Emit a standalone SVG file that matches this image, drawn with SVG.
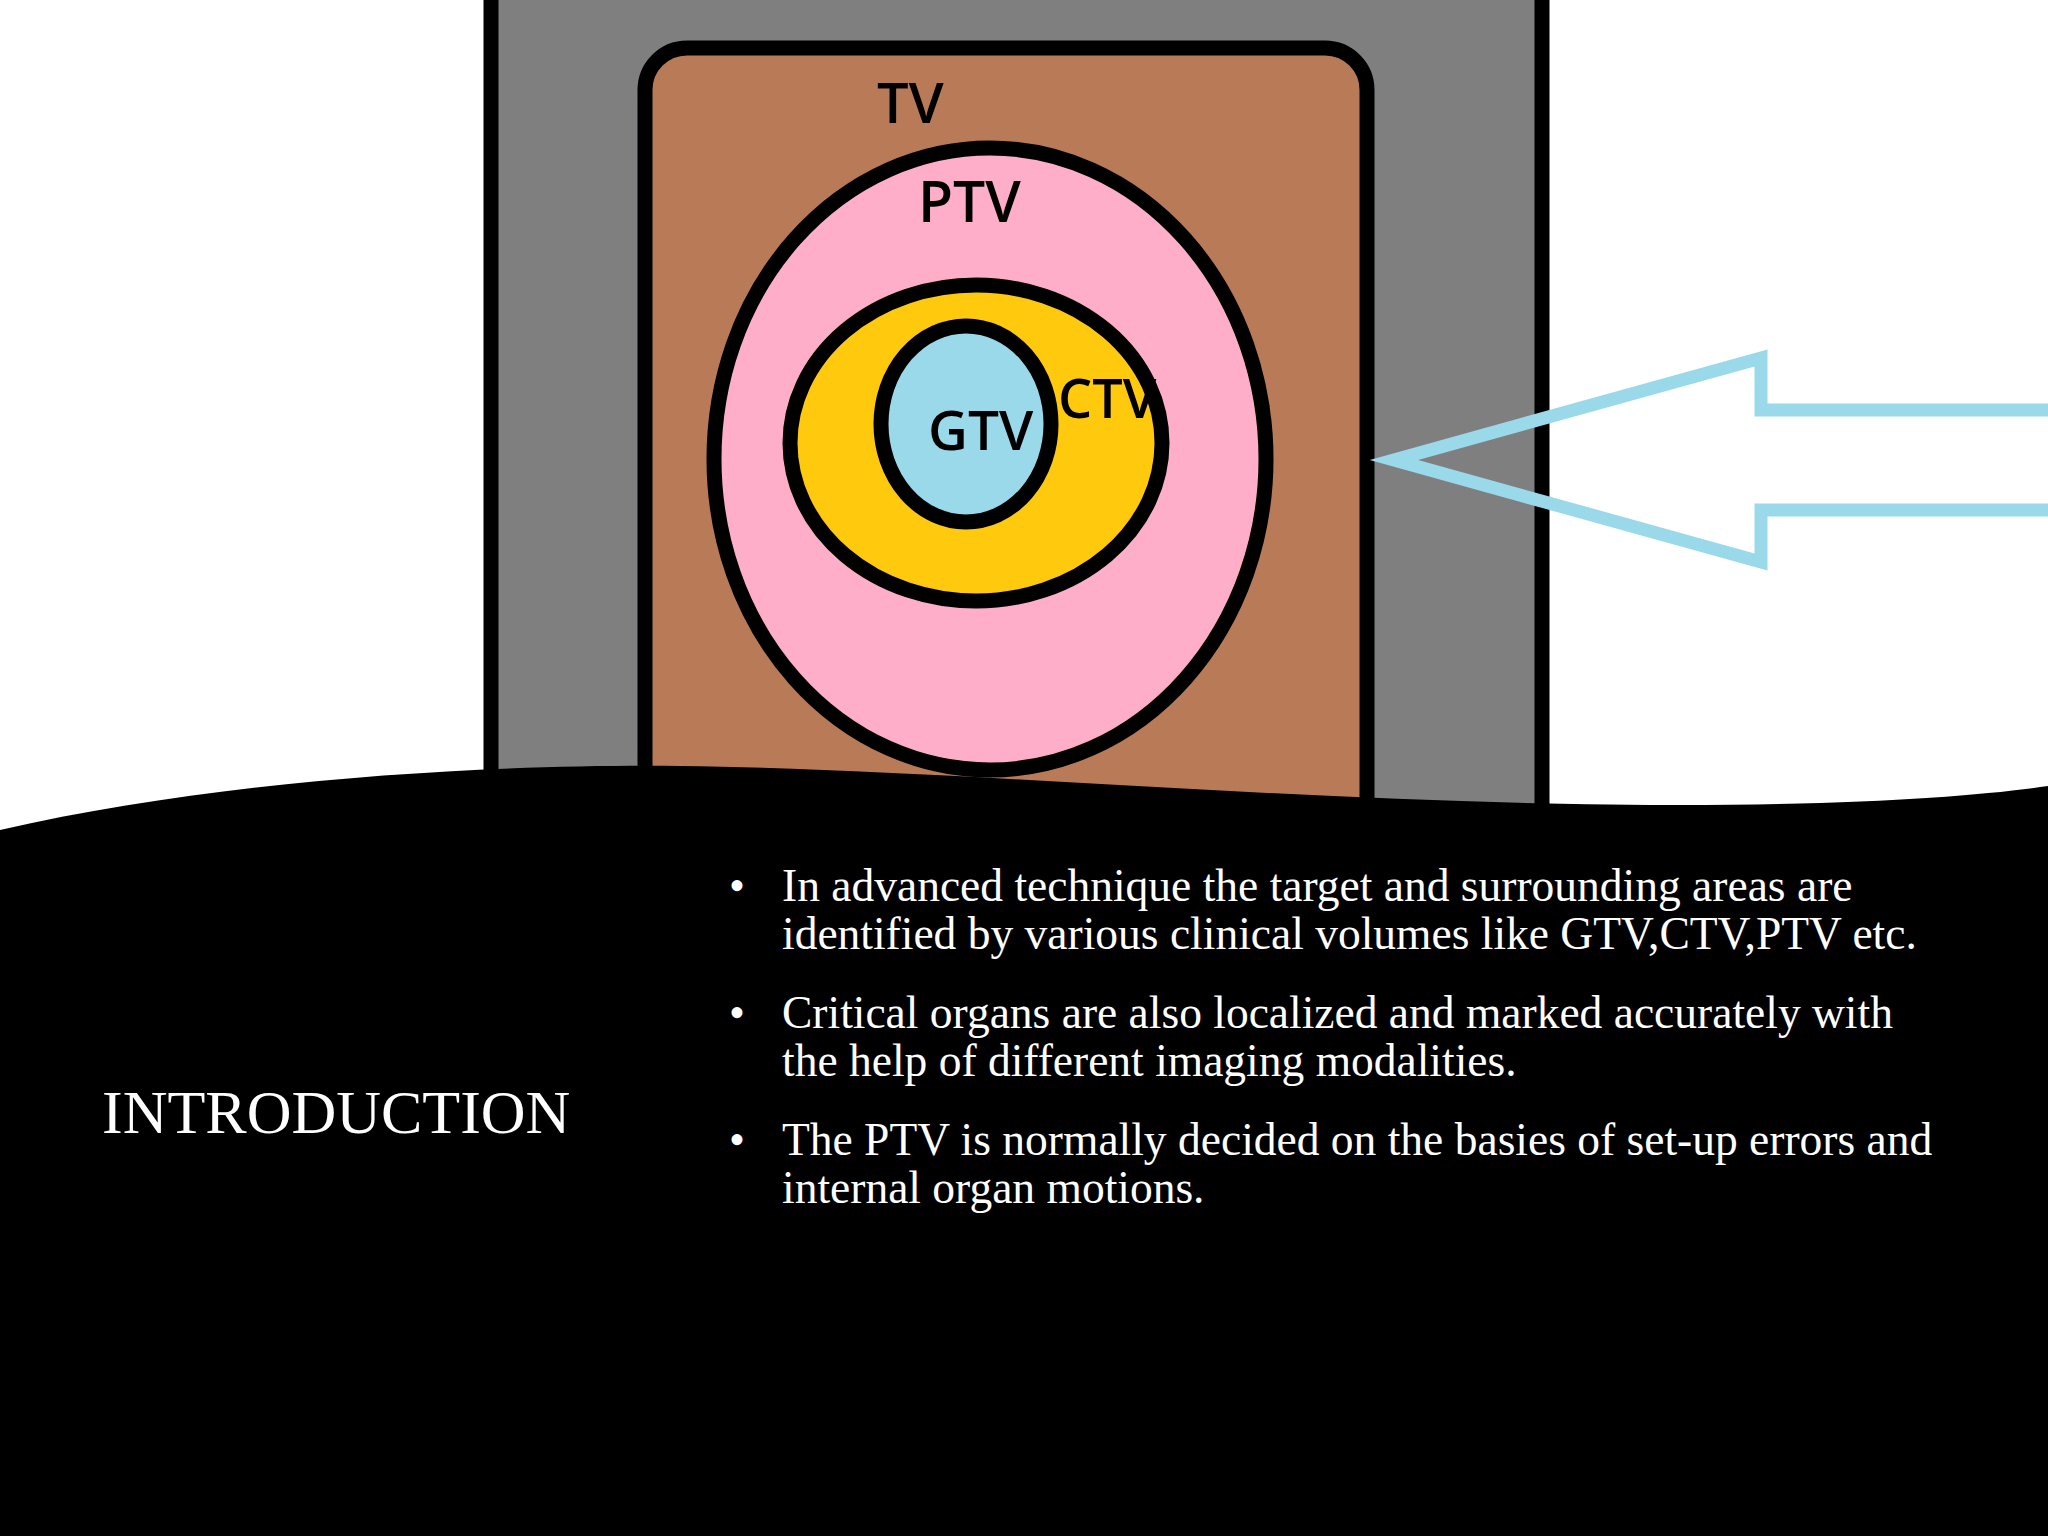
<svg xmlns="http://www.w3.org/2000/svg" width="2048" height="1536" viewBox="0 0 2048 1536">
<style>
.outline{stroke:#000;stroke-width:15;}
.lbl{font-family:"Open Sans","DejaVu Sans",sans-serif;font-weight:600;fill:#000;}
.body{font-family:"Liberation Serif","Times New Roman",serif;fill:#fff;font-size:45.5px;}
</style>
<rect x="0" y="0" width="2048" height="1536" fill="#fff"/>
<g id="frame">
<rect class="outline" x="491" y="-20" width="1051" height="860" fill="#7f7f7f"/>
</g>
<g id="tv">
<rect class="outline" x="645" y="48" width="722" height="800" rx="42" ry="42" fill="#b97a57"/>
<text class="lbl" x="877" y="123" font-size="56">TV</text>
</g>
<g id="ptv">
<ellipse class="outline" cx="990" cy="459" rx="276" ry="311" fill="#ffaec9"/>
<text class="lbl" x="918" y="222" font-size="57">PTV</text>
</g>
<g id="ctv">
<ellipse class="outline" cx="976" cy="443" rx="186" ry="158" fill="#ffc90e"/>
<text class="lbl" x="1058" y="418" font-size="54">CTV</text>
</g>
<g id="gtv">
<ellipse class="outline" cx="966" cy="424" rx="85" ry="98" fill="#99d9ea"/>
<text class="lbl" x="928" y="450" font-size="55">GTV</text>
</g>
<g id="arrow">
<path d="M2060,410 H1761 V358 L1394,460 L1761,562 V510 H2060" fill="none" stroke="#99d9ea" stroke-width="13" stroke-linejoin="miter"/>
</g>
<g id="base">
<path d="M0,830 C220,780 480,764 680,766 C950,769 1300,803 1650,805 C1850,806 1980,796 2048,786 V1536 H0 Z" fill="#000"/>
</g>
<g id="title">
<text x="102" y="1133" font-family="Liberation Serif,'Times New Roman',serif" font-size="62" fill="#fff">INTRODUCTION</text>
</g>
<g id="bullets" class="body">
<text x="729" y="901">•</text>
<text x="782" y="901">In advanced technique the target and surrounding areas are</text>
<text x="782" y="949">identified by various clinical volumes like GTV,CTV,PTV etc.</text>
<text x="729" y="1028">•</text>
<text x="782" y="1028">Critical organs are also localized and marked accurately with</text>
<text x="782" y="1076">the help of different imaging modalities.</text>
<text x="729" y="1155">•</text>
<text x="782" y="1155">The PTV is normally decided on the basies of set-up errors and</text>
<text x="782" y="1203">internal organ motions.</text>
</g>
</svg>
